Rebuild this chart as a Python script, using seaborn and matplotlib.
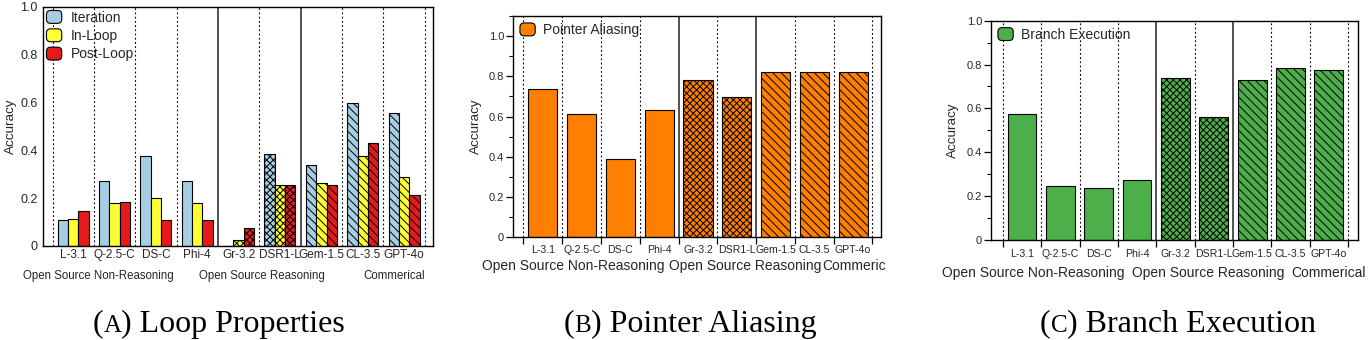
import numpy as np
import pandas as pd
import matplotlib
matplotlib.use("Agg")
import matplotlib.pyplot as plt
import seaborn as sns
from matplotlib.patches import Patch, FancyBboxPatch
from matplotlib.legend_handler import HandlerPatch
from matplotlib.ticker import FuncFormatter, MultipleLocator, FixedLocator, NullFormatter
from matplotlib.transforms import Bbox
from matplotlib.offsetbox import TextArea, HPacker, AnnotationBbox

# ---------------- data ----------------
models = ["L-3.1", "Q-2.5-C", "DS-C", "Phi-4", "Gr-3.2", "DSR1-L", "Gem-1.5", "CL-3.5", "GPT-4o"]
model_group = ["NR", "NR", "NR", "NR", "R", "R", "C", "C", "C"]
group_names = ["Open Source Non-Reasoning", "Open Source Reasoning", "Commerical"]

loop_metrics = ["Iteration", "In-Loop", "Post-Loop"]
iteration = [0.11, 0.27, 0.375, 0.27, 0.0, 0.385, 0.34, 0.60, 0.555]
in_loop = [0.115, 0.18, 0.20, 0.18, 0.025, 0.255, 0.265, 0.375, 0.29]
post_loop = [0.145, 0.185, 0.11, 0.11, 0.075, 0.255, 0.255, 0.43, 0.215]

pointer_aliasing = [0.735, 0.615, 0.39, 0.635, 0.78, 0.695, 0.82, 0.82, 0.82]
branch_execution = [0.575, 0.245, 0.235, 0.275, 0.74, 0.56, 0.73, 0.785, 0.775]

# ---------------- style ----------------
sns.set_style("white")
plt.rcParams["font.family"] = ["Liberation Sans", "DejaVu Sans"]
plt.rcParams["hatch.linewidth"] = 0.7

loop_colors = ["#A6CEE3", "#FFFF33", "#E41A1C"]
orange = "#FF7F00"
green = "#4DAF4A"
hatch_of = {"NR": "", "R": "xxxxx", "C": "\\\\\\\\"}

fig = plt.figure(figsize=(13.7, 3.4), dpi=100)
W, H = 1370.0, 340.0


def add_ax(left, top, right, bottom):
    return fig.add_axes([left / W, 1 - bottom / H, (right - left) / W, (bottom - top) / H])


axA = add_ax(43, 7, 433, 246)
axB = add_ax(513, 16, 881, 237.3)
axC = add_ax(991, 20.7, 1358, 240)


class RoundHandler(HandlerPatch):
    def create_artists(self, legend, orig_handle, xdescent, ydescent, width, height, fontsize, trans):
        p = FancyBboxPatch((-xdescent, -ydescent), width, height,
                           boxstyle="round,pad=0,rounding_size=3",
                           facecolor=orig_handle.get_facecolor(), edgecolor="black",
                           linewidth=0.8, transform=trans)
        return [p]


def yfmt(v, pos):
    return "0" if abs(v) < 1e-9 else f"{v:.1f}"


def separators(ax):
    for b in np.arange(-0.5, len(models)):
        if abs(b - 3.5) < 1e-9 or abs(b - 5.5) < 1e-9:
            ax.axvline(b, color="#222222", lw=1.1, zorder=0.5)
        else:
            ax.axvline(b, color="black", lw=0.8, ls=(0, (1.6, 2.2)), zorder=0.5)


def apply_hatches(ax):
    for cont in ax.containers:
        for i, bar in enumerate(cont):
            bar.set_hatch(hatch_of[model_group[i]])


# ---------------- Panel A ----------------
dfA = pd.DataFrame({
    "model": models * 3,
    "metric": [m for m in loop_metrics for _ in models],
    "value": iteration + in_loop + post_loop,
})
sns.barplot(data=dfA, x="model", y="value", hue="metric", order=models, hue_order=loop_metrics,
            palette=loop_colors, saturation=1, width=0.75, edgecolor="black", linewidth=0.8,
            ax=axA, legend=False, zorder=2)
apply_hatches(axA)
separators(axA)
axA.set_xlim(-0.73, 8.7)
axA.set_ylim(0, 1.0)
axA.yaxis.set_major_locator(MultipleLocator(0.2))
axA.yaxis.set_major_formatter(FuncFormatter(yfmt))
axA.tick_params(axis="both", length=0)
axA.tick_params(axis="x", labelsize=8.5, pad=2.5)
axA.tick_params(axis="y", labelsize=9, pad=4)
axA.set_xlabel("")
axA.set_ylabel("Accuracy", fontsize=9.7)
axA.yaxis.set_label_coords(-0.068, 0.5)
handlesA = [Patch(facecolor=c, label=l) for c, l in zip(loop_colors, loop_metrics)]
axA.legend(handles=handlesA, loc="upper left", frameon=False, fontsize=10,
           handler_map={Patch: RoundHandler()}, handlelength=1.1, handleheight=1.05,
           handletextpad=0.65, labelspacing=0.3, borderaxespad=0.15, borderpad=0.1)
for sp in axA.spines.values():
    sp.set_color("black")
    sp.set_linewidth(1.0)

# ---------------- Panels B and C ----------------
def single_panel(ax, values, color, label, xlim, ylim_top, lab_pad, ylab_x):
    sns.barplot(x=models, y=values, order=models, color=color, saturation=1, width=0.75,
                edgecolor="black", linewidth=0.8, ax=ax, zorder=2)
    apply_hatches(ax)
    separators(ax)
    ax.set_xlim(*xlim)
    ax.set_ylim(0, ylim_top)
    ax.yaxis.set_major_locator(MultipleLocator(0.2))
    ax.yaxis.set_minor_locator(MultipleLocator(0.1))
    ax.yaxis.set_major_formatter(FuncFormatter(yfmt))
    ax.xaxis.set_major_locator(FixedLocator(np.arange(-0.5, len(models))))
    ax.xaxis.set_major_formatter(NullFormatter())
    ax.xaxis.set_minor_locator(FixedLocator(np.arange(len(models))))
    ax.set_xticklabels(models, minor=True)
    ax.tick_params(axis="x", which="major", direction="out", length=5, width=0.9, color="black", bottom=True)
    ax.tick_params(axis="x", which="minor", length=0, labelsize=7.6, pad=lab_pad, bottom=True)
    ax.tick_params(axis="y", which="major", direction="out", length=5, width=0.9, color="black",
                   labelsize=8, pad=1.5, left=True)
    ax.tick_params(axis="y", which="minor", direction="out", length=3, width=0.8, color="black", left=True)
    ax.set_xlabel("")
    ax.set_ylabel("Accuracy", fontsize=9.7)
    ax.yaxis.set_label_coords(ylab_x, 0.5)
    h = [Patch(facecolor=color, label=label)]
    ax.legend(handles=h, loc="upper left", frameon=False, fontsize=10,
              handler_map={Patch: RoundHandler()}, handlelength=1.1, handleheight=1.05,
              handletextpad=0.55, borderaxespad=0.4, borderpad=0.1)
    for sp in ax.spines.values():
        sp.set_color("black")
        sp.set_linewidth(1.0)


single_panel(axB, pointer_aliasing, orange, "Pointer Aliasing", (-0.77, 8.72), 1.1, 5.5, -0.084)
single_panel(axC, branch_execution, green, "Branch Execution", (-0.81, 8.76), 1.0, 6.5, -0.087)

# ---------------- group labels ----------------
def group_labels(ax, xs, ypix, size, clip_right=None):
    for name, x in zip(group_names, xs):
        xd = ax.transData.transform((x, 0))[0]
        t = fig.text(xd / W, 1 - ypix / H, name, ha="center", va="center", fontsize=size)
        if clip_right is not None:
            t.set_clip_box(Bbox.from_extents(0, 0, clip_right, H))
            t.set_clip_on(True)


fig.canvas.draw()
group_labels(axA, [0.6, 4.56, 7.76], 276, 8.3)
group_labels(axB, [0.78, 5.22, 8.17], 266, 10, clip_right=886)
group_labels(axC, [0.29, 4.85, 8.0], 273, 10)

# ---------------- panel titles ----------------
def panel_title(xpix, letter, rest):
    tp = dict(family="Liberation Serif", size=23, color="black")
    tps = dict(family="Liberation Serif", size=18, color="black")
    parts = [TextArea("(", textprops=tp), TextArea(letter, textprops=tps),
             TextArea(") " + rest, textprops=tp)]
    box = HPacker(children=parts, align="baseline", pad=0, sep=0)
    ab = AnnotationBbox(box, (xpix / W, 0.004), xycoords="figure fraction", frameon=False,
                        box_alignment=(0.5, 0.0), annotation_clip=False)
    fig.add_artist(ab)


panel_title(219, "A", "Loop Properties")
panel_title(690, "B", "Pointer Aliasing")
panel_title(1178, "C", "Branch Execution")

fig.savefig("out.png", dpi=100)
